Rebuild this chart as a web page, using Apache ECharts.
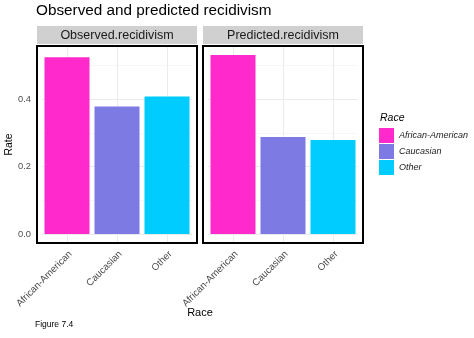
<!DOCTYPE html>
<html>
<head>
<meta charset="utf-8">
<script src="https://cdn.jsdelivr.net/npm/echarts@6/dist/echarts.min.js"></script>
<style>
  html, body { margin: 0; padding: 0; background: #fff; }
  #chart { width: 474px; height: 338px; }
</style>
</head>
<body>
<div id="chart"></div>
<script>
// Recidivism rates by race, observed vs predicted
const categories = ['African-American', 'Caucasian', 'Other'];
const observed = [0.524, 0.378, 0.408];
const predicted = [0.531, 0.288, 0.279];
const panelTitles = ['Observed.recidivism', 'Predicted.recidivism'];
const yTicks = [0, 0.2, 0.4];
const yMinorTicks = [0.1, 0.3, 0.5];
const colors = ['#FF29CC', '#7D7BE3', '#00CCFF'];

const panelValues = [observed, predicted];
const FONT = 'Liberation Sans, Arial, sans-serif';

// y range with a 5% pad on both ends
const dataMax = Math.max(...observed, ...predicted);
const pad = dataMax * 0.05;
const yMin = -pad, yMax = dataMax + pad;

// panel boxes (frame) and plotting areas
const panels = [
  { x: 37, y: 46, w: 160, h: 197 },
  { x: 203, y: 46, w: 160, h: 197 }
];
const inset = 5; // discrete-axis padding inside the frame

const grid = [], xAxis = [], yAxis = [], series = [], graphic = [];

panels.forEach((p, pi) => {
  grid.push({ left: p.x + inset, top: p.y, width: p.w - 2 * inset, height: p.h, containLabel: false });

  xAxis.push({
    type: 'category', gridIndex: pi, data: categories,
    axisLine: { show: false }, axisTick: { show: false },
    splitLine: { show: false },
    axisLabel: { rotate: 45, fontSize: 9.7, color: '#4d4d4d', margin: 6, verticalAlign: 'top',
                 fontFamily: FONT }
  });
  // vertical gridlines at category centres
  xAxis.push({
    type: 'value', gridIndex: pi, min: 0, max: categories.length,
    axisLine: { show: false }, axisLabel: { show: false },
    axisTick: { show: false, customValues: categories.map((_, i) => i + 0.5) },
    splitLine: { show: true, lineStyle: { color: '#ebebeb', width: 1 } }
  });

  yAxis.push({
    type: 'value', gridIndex: pi, min: yMin, max: yMax,
    axisLine: { show: false },
    axisTick: { show: false, customValues: yTicks },
    axisLabel: {
      show: pi === 0, customValues: yTicks, fontSize: 9.3, color: '#4d4d4d', margin: 11,
      fontFamily: FONT, formatter: v => v.toFixed(1)
    },
    splitLine: { show: true, lineStyle: { color: '#ebebeb', width: 1 } },
    name: pi === 0 ? 'Rate' : '', nameLocation: 'middle', nameGap: 22, nameRotate: 90,
    nameTextStyle: { fontSize: 10.5, color: '#000', fontFamily: FONT }
  });
  // minor horizontal gridlines
  yAxis.push({
    type: 'value', gridIndex: pi, min: yMin, max: yMax, position: 'left',
    axisLine: { show: false }, axisLabel: { show: false },
    axisTick: { show: false, customValues: yMinorTicks },
    splitLine: { show: true, lineStyle: { color: '#f2f2f2', width: 0.6 } }
  });

  categories.forEach((c, ci) => {
    series.push({
      type: 'bar', name: c,
      xAxisIndex: 2 * pi, yAxisIndex: 2 * pi,
      stack: 'panel' + pi, barWidth: '90%',
      itemStyle: { color: colors[ci] },
      data: categories.map((_, i) => (i === ci ? panelValues[pi][i] : '-'))
    });
  });

  // strip header
  graphic.push({
    type: 'rect', shape: { x: p.x, y: 26, width: p.w, height: 18 },
    style: { fill: '#d0d0d0' }, z: 10
  });
  graphic.push({
    type: 'text', z: 11,
    style: {
      text: panelTitles[pi], x: p.x + p.w / 2, y: 35.5, align: 'center', verticalAlign: 'middle',
      fontSize: 12.5, fill: '#1a1a1a', fontFamily: FONT
    }
  });
  // panel frame
  graphic.push({
    type: 'rect', shape: { x: p.x, y: p.y, width: p.w, height: p.h },
    style: { fill: null, stroke: '#000', lineWidth: 2 }, z: 12
  });
});

graphic.push({
  type: 'text', z: 11,
  style: { text: 'Observed and predicted recidivism', x: 36, y: 11, verticalAlign: 'middle',
           fontSize: 15.3, fill: '#000', fontFamily: FONT }
});
graphic.push({
  type: 'text', z: 11,
  style: { text: 'Race', x: 200, y: 313, align: 'center', verticalAlign: 'middle',
           fontSize: 11, fill: '#000', fontFamily: FONT }
});
graphic.push({
  type: 'text', z: 11,
  style: { text: 'Race', x: 380, y: 118, verticalAlign: 'middle',
           fontSize: 10.5, fontStyle: 'italic', fill: '#000', fontFamily: FONT }
});
graphic.push({
  type: 'text', z: 11,
  style: { text: 'Figure 7.4', x: 35, y: 325, verticalAlign: 'middle',
           fontSize: 8.5, fill: '#000', fontFamily: FONT }
});

const chart = echarts.init(document.getElementById('chart'), null, { renderer: 'canvas' });
chart.setOption({
  animation: false,
  backgroundColor: '#fff',
  grid, xAxis, yAxis, series, graphic,
  legend: {
    data: categories, orient: 'vertical', left: 379, top: 128,
    itemWidth: 15, itemHeight: 15, itemGap: 1, icon: 'rect',
    padding: 0,
    textStyle: { fontSize: 9, fontStyle: 'italic', color: '#1a1a1a', fontFamily: FONT }
  }
});
</script>
</body>
</html>
